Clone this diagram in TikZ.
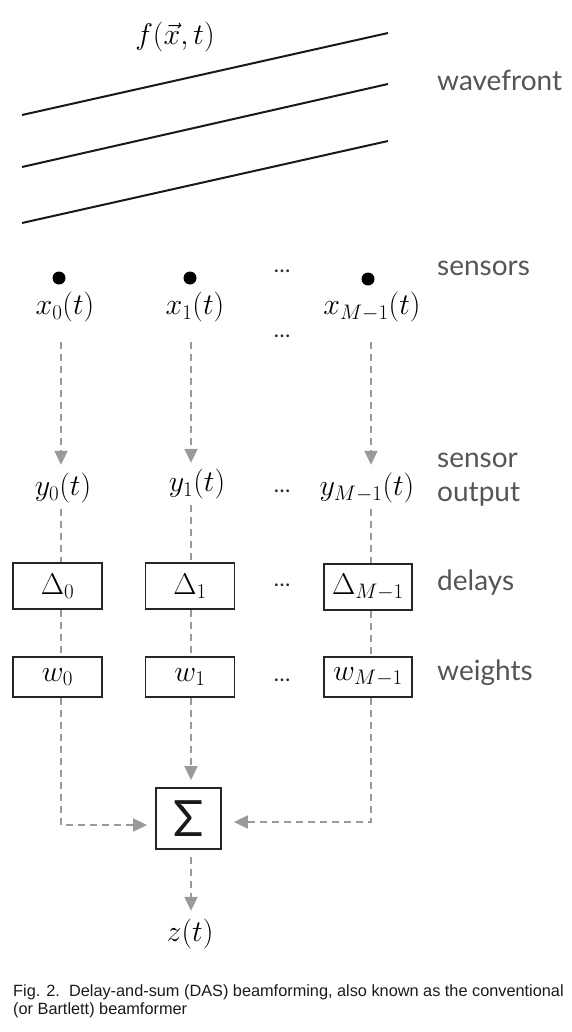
\RequirePackage{fix-cm}
\documentclass[tikz,border=0pt]{standalone}
\usepackage{fontspec}
\newfontfamily\labelfont{Lato}
\newfontfamily\capfont{Liberation Sans}
\usetikzlibrary{arrows.meta}
\definecolor{lbl}{HTML}{555555}
\definecolor{flowc}{HTML}{9A9A9A}
\definecolor{capc}{HTML}{1A1A1A}
\begin{document}
\begin{tikzpicture}[x=1pt,y=-1pt,
  wave/.style={line width=2pt, black!90},
  flow/.style={draw=flowc, line width=1.7pt, dash pattern=on 7pt off 5pt},
  arr/.style={flow, -{Triangle[width=13pt,length=14pt]}},
  lab/.style={font=\labelfont\fontsize{28}{34}\selectfont, text=lbl, anchor=west, inner sep=0pt},
  mth/.style={font=\fontsize{30}{34}\selectfont, inner sep=0pt},
  blk/.style={draw=black!85, line width=1.8pt, inner sep=0pt, font=\fontsize{30}{34}\selectfont},
  dbox/.style={blk, minimum width=89pt, minimum height=46pt},
  wbox/.style={blk, minimum width=89pt, minimum height=40pt},
  ell/.style={font=\labelfont\fontsize{22}{22}\selectfont, text=black!85, inner sep=0pt},
  captxt/.style={font=\capfont\fontsize{16.3}{18}\selectfont, text=capc, anchor=base west, inner sep=0pt}
]
\useasboundingbox (0,0) rectangle (572,1032);

% wavefront
\draw[wave] (22,115) -- (388,33);
\draw[wave] (22,167) -- (388,84);
\draw[wave] (22,223) -- (388,141);
\node[mth] (f) at (175,37) {$f(\vec{x},t)$};
\node[lab] (lwave) at (437,80) {wavefront};

% column positions
\coordinate (c0) at (61,0);
\coordinate (c1) at (191,0);
\coordinate (c2) at (371,0);

% sensors
\fill (59,278) circle (6.5pt);
\fill (190,278) circle (6.5pt);
\fill (368,279) circle (6.5pt);
\node[ell] (e1) at (282,271) {…};
\node[lab] (lsens) at (437,268) {sensors};

\node[mth] (x0) at (65,307) {$x_0(t)$};
\node[mth] (x1) at (195,307) {$x_1(t)$};
\node[mth] (xm) at (372,307) {$x_{M-1}(t)$};
\node[ell] (e2) at (282,336) {…};

% sensor output
\node[mth] (y0) at (63,488) {$y_0(t)$};
\node[mth] (y1) at (197,484) {$y_1(t)$};
\node[mth] (ym) at (367,488) {$y_{M-1}(t)$};
\node[ell] (e3) at (282,491) {…};
\node[lab, align=left] (lout) at (437,480) {sensor\\output};

\draw[arr, shorten <=20pt, shorten >=8pt] (x0.south -| c0) -- (y0.north -| c0);
\draw[arr, shorten <=20pt, shorten >=6pt] (x1.south -| c1) -- (y1.north -| c1);
\draw[arr, shorten <=20pt, shorten >=8pt] (xm.south -| c2) -- (ym.north -| c2);

% delays
\node[dbox] (d0) at (57.5,586) {$\Delta_0$};
\node[dbox] (d1) at (190,586) {$\Delta_1$};
\node[dbox, minimum width=88pt] (dm) at (368,587) {$\Delta_{M-1}$};
\node[ell] (e4) at (282,585) {…};
\node[lab] (ldel) at (437,583) {delays};

\draw[flow, shorten <=6pt] (y0.south -| c0) -- (d0.north -| c0);
\draw[flow, shorten <=6pt] (y1.south -| c1) -- (d1.north -| c1);
\draw[flow, shorten <=6pt] (ym.south -| c2) -- (dm.north -| c2);

% weights
\node[wbox] (w0) at (57.5,677) {$w_0$};
\node[wbox] (w1) at (190,677) {$w_1$};
\node[wbox, minimum width=88pt] (wm) at (368,677) {$w_{M-1}$};
\node[ell] (e5) at (282,680) {…};
\node[lab] (lwt) at (437,673) {weights};

\draw[flow] (d0.south -| c0) -- (w0.north -| c0);
\draw[flow] (d1.south -| c1) -- (w1.north -| c1);
\draw[flow] (dm.south -| c2) -- (wm.north -| c2);

% sum
\node[blk, minimum width=65pt, minimum height=61pt, font=\labelfont\fontsize{50}{50}\selectfont, text=black!90] (sum) at (188.5,818.5) {Σ};
\coordinate (sl) at (0,825);
\coordinate (sr) at (0,822);
\draw[arr, shorten >=8pt] (w0.south -| c0) |- (sum.west |- sl);
\draw[arr, shorten >=7pt] (w1.south -| c1) -- (sum.north -| c1);
\draw[arr, shorten >=12pt] (wm.south -| c2) |- (sum.east |- sr);

\node[mth] (z) at (190,934) {$z(t)$};
\draw[arr, shorten <=7pt, shorten >=8pt] (sum.south -| c1) -- (z.north -| c1);

% caption
\node[captxt] (cap1) at (13,996.7) {Fig. 2.\ \ Delay-and-sum (DAS) beamforming, also known as the conventional};
\node[captxt] (cap2) at (13,1014) {(or Bartlett) beamformer};
\end{tikzpicture}
\end{document}
